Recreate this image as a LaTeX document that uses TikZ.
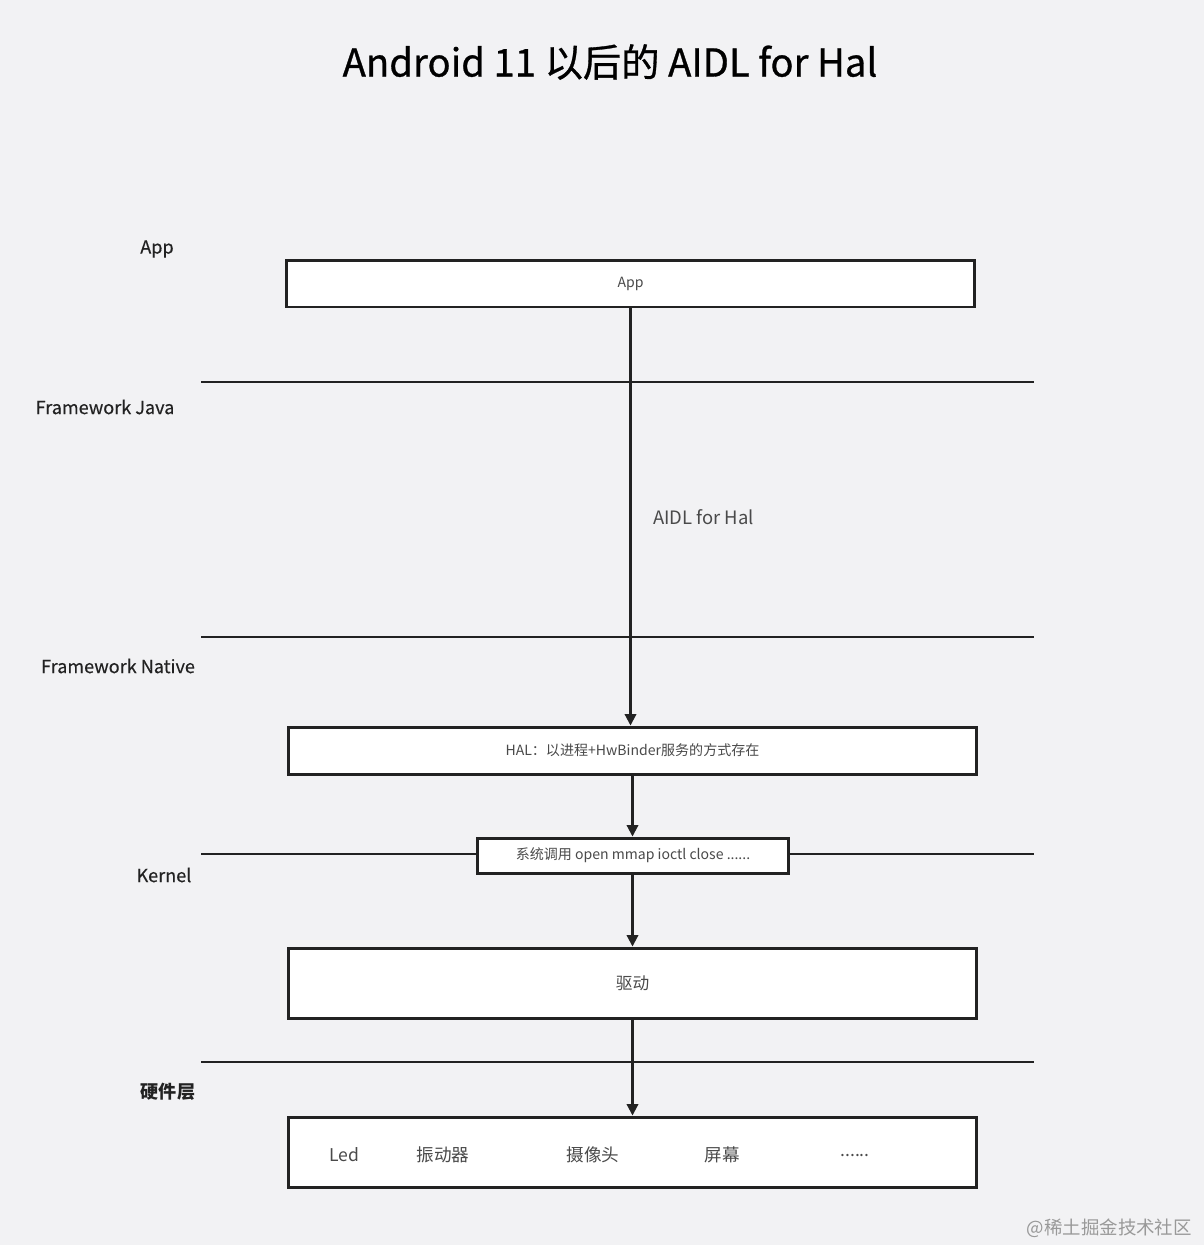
\documentclass[tikz,border=0pt]{standalone}
\usepackage{fontspec}
\setmainfont{Noto Sans CJK SC}
\newfontfamily\titlefont{Noto Sans CJK SC}[FakeBold=0.8]
\newfontfamily\layerfont{Noto Sans CJK SC}[FakeBold=0.3]
\usepackage{tikz}
\usetikzlibrary{arrows.meta, positioning}
\definecolor{bgcol}{HTML}{F2F2F4}
\definecolor{inkcol}{HTML}{222222}
\definecolor{boxtext}{HTML}{4A4A4A}
\begin{document}
\begin{tikzpicture}[x=0.02cm, y=-0.02cm,
  layer/.style={font=\layerfont\fontsize{10.3}{12}\selectfont, text=inkcol},
  box/.style={draw=inkcol, fill=white, line width=1.7pt, minimum width=13.78cm, inner sep=0pt},
  flow/.style={draw=inkcol, line width=1.2pt, -{Triangle[length=6.5pt, width=6.5pt]}},
  item/.style={font=\fontsize{10}{12}\selectfont, text=boxtext}]
\useasboundingbox[fill=bgcol] (0,0) rectangle (1204,1245);
\node[font=\titlefont\fontsize{21.8}{26}\selectfont, text=black] (title) at (610,62) {Android 11 以后的 AIDL for Hal};
\foreach \y in {382,637,854,1062} \draw[inkcol, line width=1.1pt] (201,\y)--(1034,\y);
\node[layer] (lapp) at (157,249) {App};
\node[layer] (ljava) at (105,407) {Framework Java};
\node[layer] (lnative) at (118,666) {Framework Native};
\node[layer] (lkernel) at (164,875) {Kernel};
\node[layer, font=\fontsize{10.3}{12}\selectfont\bfseries] (lhw) at (168,1092) {硬件层};
\node[box, minimum height=0.94cm, font=\fontsize{8}{10}\selectfont, text=boxtext] (app) at (630.5,283.5) {App};
\node[box, minimum height=0.94cm, font=\fontsize{8}{10}\selectfont, text=boxtext] (hal) at (632.5,750.5) {HAL：以进程+HwBinder服务的方式存在};
\node[box, minimum width=6.24cm, minimum height=0.7cm, font=\fontsize{8}{10}\selectfont, text=boxtext] (syscall) at (633,855.5) {系统调用 open mmap ioctl close ......};
\node[box, minimum height=1.4cm, font=\fontsize{9.5}{11}\selectfont, text=boxtext] (driver) at (632.5,983) {驱动};
\node[box, minimum height=1.4cm] (hw) at (632.5,1152) {};
\node[item] (led) at (344,1155) {Led};
\node[item] (vib) at (443,1155) {振动器};
\node[item] (cam) at (593,1155) {摄像头};
\node[item] (screen) at (722,1155) {屏幕};
\node[item] (more) at (855,1155) {......};
\draw[flow] (app.south) -- (app.south |- hal.north) node[midway, right=9pt, font=\fontsize{10.5}{12}\selectfont, text=boxtext] (aidl) {AIDL for Hal};
\draw[flow] (hal.south) -- (hal.south |- syscall.north);
\draw[flow] (syscall.south -| hal.south) -- (driver.north);
\draw[flow] (driver.south) -- (hw.north);
\node[anchor=east, font=\fontsize{10.5}{12}\selectfont, text=gray!80] (mark) at (1198,1228) {@稀土掘金技术社区};
\end{tikzpicture}
\end{document}
